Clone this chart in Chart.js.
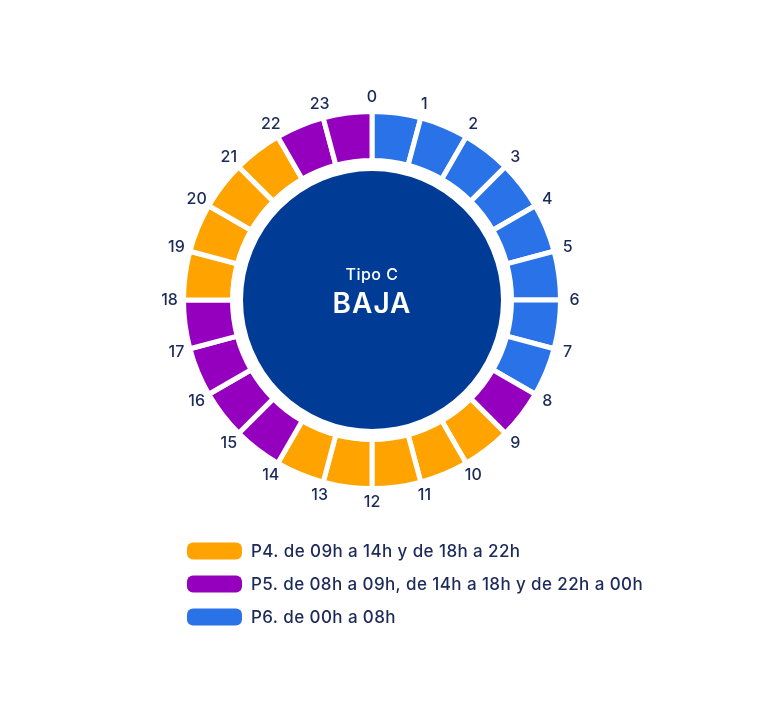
<!DOCTYPE html>
<html>
<head>
<meta charset="utf-8">
<script src="https://cdn.jsdelivr.net/npm/chart.js@4"></script>
<style>
  html, body { margin: 0; padding: 0; background: #fff; }
  #wrap { width: 768px; height: 710px; position: relative; }
</style>
</head>
<body>
<div id="wrap"><canvas id="clock"></canvas></div>
<script>
// hours of the day, one segment each
const hours = ['0','1','2','3','4','5','6','7','8','9','10','11','12','13','14','15','16','17','18','19','20','21','22','23'];
// tariff period for each hour
const hourPeriod = ['P6','P6','P6','P6','P6','P6','P6','P6','P5','P4','P4','P4','P4','P4','P5','P5','P5','P5','P4','P4','P4','P4','P5','P5'];
const periods = ['P4', 'P5', 'P6'];
const periodLabels = [
  'P4. de 09h a 14h y de 18h a 22h',
  'P5. de 08h a 09h, de 14h a 18h y de 22h a 00h',
  'P6. de 00h a 08h'
];
const periodColors = { P4: '#FFA300', P5: '#9500BE', P6: '#2A72E8' };
const centerTitle = 'Tipo C';
const centerValue = 'BAJA';

const textColor = '#1C2A5A';
const fontFam = 'Inter, "Noto Sans", sans-serif';

// hour labels around the ring + center text + legend
const clockText = {
  id: 'clockText',
  afterDraw(chart) {
    const ctx = chart.ctx;
    const meta = chart.getDatasetMeta(0);
    const arc = meta.data[0];
    const cx = arc.x, cy = arc.y;
    const r = arc.outerRadius + 14;
    ctx.save();
    ctx.fillStyle = textColor;
    ctx.font = '500 16px ' + fontFam;
    ctx.textAlign = 'center';
    ctx.textBaseline = 'middle';
    meta.data.forEach((a, i) => {
      const ang = a.startAngle;
      ctx.fillText(hours[i], cx + Math.cos(ang) * r, cy + Math.sin(ang) * r);
    });

    ctx.fillStyle = '#fff';
    ctx.letterSpacing = '0.5px';
    ctx.font = '500 16px ' + fontFam;
    ctx.fillText(centerTitle, cx, cy - 25);
    ctx.letterSpacing = '1px';
    ctx.font = '600 28px ' + fontFam;
    ctx.fillText(centerValue, cx, cy + 5);

    // legend
    ctx.textAlign = 'left';
    ctx.letterSpacing = '0.4px';
    periods.forEach((p, i) => {
      const y = 551 + i * 33;
      ctx.fillStyle = periodColors[p];
      ctx.beginPath();
      ctx.roundRect(187, y - 8.5, 55, 17, 6);
      ctx.fill();
      ctx.fillStyle = textColor;
      ctx.font = '500 17px ' + fontFam;
      ctx.fillText(periodLabels[i], 251, y + 1);
    });
    ctx.restore();
  }
};

const ctx = document.getElementById('clock').getContext('2d');

const chart = new Chart(ctx, {
  type: 'doughnut',
  data: {
    labels: hours,
    datasets: [
      {
        data: hours.map(() => 1),
        backgroundColor: hourPeriod.map(p => periodColors[p]),
        borderColor: '#fff',
        borderWidth: 5,
        weight: 49
      },
      {
        data: [1],
        backgroundColor: 'rgba(0,0,0,0)',
        borderWidth: 0,
        weight: 10.5
      },
      {
        data: [1],
        backgroundColor: '#003C96',
        borderWidth: 0,
        weight: 129
      }
    ]
  },
  options: {
    responsive: true,
    maintainAspectRatio: false,
    animation: false,
    cutout: 0,
    layout: {
      padding: { left: 181, right: 205, top: 109, bottom: 219 }
    },
    plugins: {
      legend: { display: false },
      tooltip: { enabled: false }
    }
  },
  plugins: [clockText]
});
</script>
</body>
</html>
